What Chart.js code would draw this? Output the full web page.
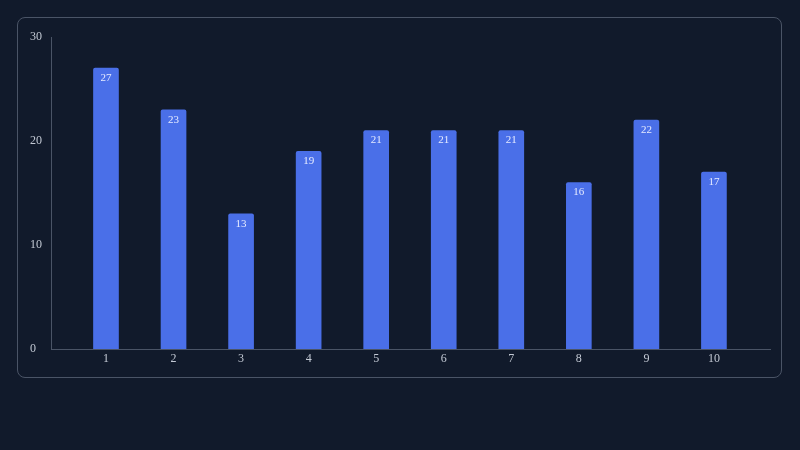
<!DOCTYPE html>
<html>
<head>
<meta charset="utf-8">
<script src="https://cdn.jsdelivr.net/npm/chart.js@4"></script>
<style>
    body { margin: 0; background: #111a2b; width: 800px; height: 450px; overflow: hidden; }
    .card {
        position: absolute; left: 17px; top: 17px; width: 765px; height: 361px;
        border: 1px solid #4a5466; border-radius: 8px; box-sizing: border-box;
    }
    #grafico { position: absolute; left: 1px; top: 1px; }
</style>
</head>
<body>
<div class="card">
    <canvas id="grafico" width="762" height="358"></canvas>
</div>
<script>
// Dados do gráfico
const categorias = [1, 2, 3, 4, 5, 6, 7, 8, 9, 10];
const valores = [27, 23, 13, 19, 21, 21, 21, 16, 22, 17];
const ticksY = [0, 10, 20, 30];

const corTexto = "#c3c9d4";
const corEixo = "#4a5466";

// Escreve o valor dentro do topo de cada barra
const rotulosBarras = {
    id: "rotulosBarras",
    afterDatasetsDraw(chart) {
        const ctx = chart.ctx;
        const meta = chart.getDatasetMeta(0);
        ctx.save();
        ctx.fillStyle = "#e6ebff";
        ctx.font = "11px 'Liberation Serif', serif";
        ctx.textAlign = "center";
        ctx.textBaseline = "middle";
        meta.data.forEach((barra, i) => {
            ctx.fillText(valores[i], barra.x, barra.y + 10);
        });
        ctx.restore();
    }
};

const ctx = document.getElementById("grafico").getContext("2d");
new Chart(ctx, {
    type: "bar",
    data: {
        datasets: [{
            data: categorias.map((c, i) => ({ x: c, y: valores[i] })),
            backgroundColor: "#4a6fe8",
            borderRadius: { topLeft: 2, topRight: 2 },
            borderSkipped: "bottom",
            barThickness: 25
        }]
    },
    options: {
        responsive: false,
        animation: false,
        layout: { padding: { top: 18, left: 11, right: 11, bottom: 0 } },
        plugins: {
            legend: { display: false },
            tooltip: { enabled: false }
        },
        scales: {
            x: {
                type: "linear",
                offset: false,
                min: 0.186,
                max: 10.83,
                grid: { display: false, drawTicks: false },
                border: { color: corEixo, width: 1 },
                afterBuildTicks: (scale) => {
                    scale.ticks = categorias.map(v => ({ value: v }));
                },
                afterFit: (scale) => { scale.height = 28; },
                ticks: {
                    color: corTexto,
                    padding: 3,
                    font: { family: "'Liberation Serif', serif", size: 12 },
                    callback: (v) => String(v)
                }
            },
            y: {
                min: 0,
                max: 30,
                grid: { display: false, drawTicks: false },
                border: { color: corEixo, width: 1 },
                afterBuildTicks: (scale) => {
                    scale.ticks = ticksY.map(v => ({ value: v }));
                },
                afterFit: (scale) => { scale.width = 21; },
                ticks: {
                    color: corTexto,
                    crossAlign: "far",
                    font: { family: "'Liberation Serif', serif", size: 12 }
                }
            }
        }
    },
    plugins: [rotulosBarras]
});
</script>
</body>
</html>
